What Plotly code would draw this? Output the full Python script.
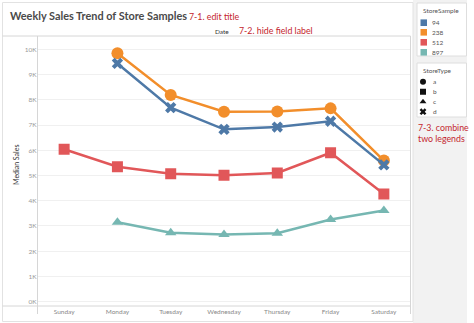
import plotly.graph_objects as go

W, H = 474, 323

days = ["Sunday", "Monday", "Tuesday", "Wednesday", "Thursday", "Friday", "Saturday"]

store_names = ["94", "238", "512", "897"]
store_colors = ["#4e79a7", "#f28e2b", "#e15759", "#76b7b2"]
store_symbols = ["x", "circle", "square", "triangle-up"]
store_sizes = [10, 12, 11, 10]

sales_94 = [None, 9440, 7690, 6830, 6920, 7150, 5420]
sales_238 = [None, 9840, 8190, 7530, 7540, 7660, 5590]
sales_512 = [6040, 5350, 5070, 5010, 5100, 5900, 4270]
sales_897 = [None, 3150, 2730, 2660, 2710, 3260, 3610]
series = [sales_94, sales_238, sales_512, sales_897]

type_names = ["a", "b", "c", "d"]
type_symbols = ["circle", "square", "triangle-up", "x"]

ytick_vals = [0, 1000, 2000, 3000, 4000, 5000, 6000, 7000, 8000, 9000, 10000]
ytick_text = ["0K", "1K", "2K", "3K", "4K", "5K", "6K", "7K", "8K", "9K", "10K"]


def px(x):
    return x / W


def py(y):
    return 1 - y / H


fig = go.Figure()

draw_order = [3, 2, 1, 0]
for i in draw_order:
    fig.add_trace(go.Scatter(
        x=days, y=series[i], mode="lines+markers", name=store_names[i],
        line=dict(color=store_colors[i], width=2.5),
        marker=dict(symbol=store_symbols[i], size=store_sizes[i], color=store_colors[i],
                    line=dict(width=0)),
        showlegend=False, connectgaps=False,
    ))

# legend shape markers on an auxiliary axis
fig.add_trace(go.Scatter(
    x=[0] * len(type_names), y=list(range(len(type_names))), mode="markers",
    marker=dict(symbol=type_symbols, size=6, color="#111111", line=dict(width=0)),
    xaxis="x2", yaxis="y2", showlegend=False, hoverinfo="skip",
))

shapes = []
shapes.append(dict(type="rect", xref="paper", yref="paper", x0=px(413), x1=px(467), y0=py(323), y1=py(0),
                   fillcolor="#f2f2f2", line=dict(width=0), layer="below"))
shapes.append(dict(type="rect", xref="paper", yref="paper", x0=px(417), x1=px(466.5), y0=py(56), y1=py(3),
                   fillcolor="white", line=dict(color="#dedede", width=1), layer="below"))
shapes.append(dict(type="rect", xref="paper", yref="paper", x0=px(417), x1=px(466.5), y0=py(117), y1=py(63),
                   fillcolor="white", line=dict(color="#dedede", width=1), layer="below"))
shapes.append(dict(type="rect", xref="paper", yref="paper", x0=px(2.5), x1=px(413), y0=py(321.5), y1=py(2.5),
                   fillcolor="rgba(0,0,0,0)", line=dict(color="#e2e2e2", width=1), layer="below"))
line_col = "#d6d6d6"
shapes.append(dict(type="line", xref="paper", yref="paper", x0=px(2.5), x1=px(410.5), y0=py(36), y1=py(36),
                   line=dict(color=line_col, width=1)))
shapes.append(dict(type="line", xref="paper", yref="paper", x0=px(2.5), x1=px(410.5), y0=py(306), y1=py(306),
                   line=dict(color=line_col, width=1)))
shapes.append(dict(type="line", xref="paper", yref="paper", x0=px(37.5), x1=px(37.5), y0=py(36), y1=py(314),
                   line=dict(color=line_col, width=1)))
shapes.append(dict(type="line", xref="paper", yref="paper", x0=px(410.5), x1=px(410.5), y0=py(36), y1=py(314),
                   line=dict(color=line_col, width=1)))
sw_y = [22.7, 32.3, 42.3, 52.3]
for c, yy in zip(store_colors, sw_y):
    shapes.append(dict(type="rect", xref="paper", yref="paper", x0=px(420.5), x1=px(427), y0=py(yy + 3.3),
                       y1=py(yy - 3.3), fillcolor=c, line=dict(width=0)))

ann = []
red = "#c4262e"
FONT = "Lato"
ann.append(dict(text="<b>Weekly Sales Trend of Store Samples</b>", x=px(8), y=py(15.5), xref="paper", yref="paper",
                xanchor="left", yanchor="middle", showarrow=False,
                font=dict(family=FONT, size=10.9, color="#4a4a4a")))
ann.append(dict(text="7-1. edit title", x=px(187), y=py(16), xref="paper", yref="paper",
                xanchor="left", yanchor="middle", showarrow=False,
                font=dict(family=FONT, size=8.8, color=red)))
ann.append(dict(text="Date", x=px(231), y=py(31), xref="paper", yref="paper",
                xanchor="right", yanchor="middle", showarrow=False,
                font=dict(family=FONT, size=6.5, color="#333333")))
ann.append(dict(text="7-2. hide field label", x=px(237), y=py(30.5), xref="paper", yref="paper",
                xanchor="left", yanchor="middle", showarrow=False,
                font=dict(family=FONT, size=8.8, color=red)))
ann.append(dict(text="Median Sales", x=px(16), y=py(165), xref="paper", yref="paper",
                xanchor="center", yanchor="middle", showarrow=False, textangle=-90,
                font=dict(family=FONT, size=7, color="#333333")))
ann.append(dict(text="StoreSample", x=px(420.5), y=py(10.5), xref="paper", yref="paper",
                xanchor="left", yanchor="middle", showarrow=False,
                font=dict(family=FONT, size=6.5, color="#555555")))
for n, yy in zip(store_names, sw_y):
    ann.append(dict(text=n, x=px(429.5), y=py(yy), xref="paper", yref="paper",
                    xanchor="left", yanchor="middle", showarrow=False,
                    font=dict(family=FONT, size=6.5, color="#555555")))
ann.append(dict(text="StoreType", x=px(420.5), y=py(70), xref="paper", yref="paper",
                xanchor="left", yanchor="middle", showarrow=False,
                font=dict(family=FONT, size=6.5, color="#555555")))
tp_y = [81.7, 91.7, 101.7, 111.7]
for n, yy in zip(type_names, tp_y):
    ann.append(dict(text=n, x=px(430.5), y=py(yy), xref="paper", yref="paper",
                    xanchor="left", yanchor="middle", showarrow=False,
                    font=dict(family=FONT, size=6.5, color="#555555")))
ann.append(dict(text="7-3. combine<br>two legends", x=px(415.5), y=py(133), xref="paper", yref="paper",
                xanchor="left", yanchor="middle", showarrow=False, align="left",
                font=dict(family=FONT, size=8.8, color=red)))

fig.update_layout(
    width=W, height=H, margin=dict(l=0, r=0, t=0, b=0),
    paper_bgcolor="white", plot_bgcolor="white",
    font=dict(family=FONT, color="#888888"),
    shapes=shapes, annotations=ann, showlegend=False,
    xaxis=dict(domain=[px(37.5), px(410.5)], range=[-0.5, 6.5], showgrid=False, zeroline=False,
               showline=False, ticks="", tickfont=dict(size=6.5, color="#888888"), fixedrange=True),
    yaxis=dict(domain=[py(306), py(36)], range=[-170, 10527], tickvals=ytick_vals, ticktext=ytick_text,
               showgrid=True, gridcolor="#f0f0f0", gridwidth=1, zeroline=False, showline=False, ticks="",
               tickfont=dict(size=6.5, color="#999999"), fixedrange=True),
    xaxis2=dict(domain=[px(418), px(428)], range=[-1, 1], visible=False, fixedrange=True),
    yaxis2=dict(domain=[py(tp_y[3] + 5), py(tp_y[0] - 5)], anchor="x2",
                range=[3 + 5 / 10, -5 / 10], visible=False, fixedrange=True),
)

fig.write_html("out.html")
